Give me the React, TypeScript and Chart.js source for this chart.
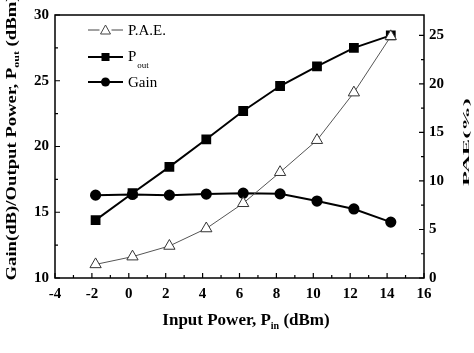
import React, { useEffect, useRef } from "react";
import { Chart, registerables } from "chart.js";

Chart.register(...registerables);

const inputPower = [-1.8, 0.2, 2.2, 4.2, 6.2, 8.2, 10.2, 12.2, 14.2];
const pout = [14.4, 16.45, 18.45, 20.55, 22.7, 24.6, 26.1, 27.5, 28.45];
const gain = [16.3, 16.35, 16.3, 16.38, 16.45, 16.4, 15.85, 15.25, 14.25];
const pae = [1.4, 2.2, 3.3, 5.1, 7.7, 10.9, 14.2, 19.1, 24.9];

const xTicks = [-4, -2, 0, 2, 4, 6, 8, 10, 12, 14, 16];
const leftTicks = [10, 15, 20, 25, 30];
const rightTicks = [0, 5, 10, 15, 20, 25];

const SERIF = "'Liberation Serif', 'Times New Roman', serif";

function drawStretched(ctx: CanvasRenderingContext2D, segs: { t: string; size: number; dy: number }[], cx: number, cy: number, length: number, rot: number) {
  ctx.save();
  let total = 0;
  for (const s of segs) {
    ctx.font = `bold ${s.size}px ${SERIF}`;
    total += ctx.measureText(s.t).width;
  }
  ctx.translate(cx, cy);
  ctx.rotate(rot);
  ctx.scale(length / total, 1);
  let x = -total / 2;
  ctx.fillStyle = "#000";
  ctx.textBaseline = "middle";
  ctx.textAlign = "left";
  for (const s of segs) {
    ctx.font = `bold ${s.size}px ${SERIF}`;
    ctx.fillText(s.t, x, s.dy);
    x += ctx.measureText(s.t).width;
  }
  ctx.restore();
}

const framePlugin = {
  id: "frame",
  afterDraw(chart: any) {
    const ctx: CanvasRenderingContext2D = chart.ctx;
    const { left, right, top, bottom } = chart.chartArea;
    const xs = chart.scales.x;
    const ys = chart.scales.y;
    const y1 = chart.scales.y1;
    ctx.save();
    ctx.strokeStyle = "#000";
    ctx.lineWidth = 1.5;
    ctx.strokeRect(left, top, right - left, bottom - top);
    ctx.lineWidth = 1.2;
    ctx.beginPath();
    for (let v = -4; v <= 16; v += 1) {
      const px = xs.getPixelForValue(v);
      const len = v % 2 === 0 ? 5 : 3;
      ctx.moveTo(px, bottom);
      ctx.lineTo(px, bottom - len);
    }
    for (let v = 10; v <= 30; v += 2.5) {
      const py = ys.getPixelForValue(v);
      const len = v % 5 === 0 ? 5 : 3;
      ctx.moveTo(left, py);
      ctx.lineTo(left + len, py);
    }
    for (let v = 0; v <= 27; v += 2.5) {
      const py = y1.getPixelForValue(v);
      const len = v % 5 === 0 ? 5 : 3;
      ctx.moveTo(right, py);
      ctx.lineTo(right - len, py);
    }
    ctx.stroke();

    drawStretched(
      ctx,
      [
        { t: "Gain(dB)/Output Power, P", size: 14, dy: 0 },
        { t: "out", size: 9, dy: 5 },
        { t: " (dBm)", size: 14, dy: 0 },
      ],
      12,
      138,
      285,
      -Math.PI / 2
    );
    drawStretched(ctx, [{ t: "PAE(%)", size: 8, dy: 0 }], 467, 142, 88, -Math.PI / 2);

    ctx.fillStyle = "#000";
    ctx.textBaseline = "alphabetic";
    ctx.textAlign = "left";
    const parts = [
      { t: "Input Power, P", size: 17, dy: 0 },
      { t: "in", size: 10, dy: 4 },
      { t: " (dBm)", size: 17, dy: 0 },
    ];
    let w = 0;
    for (const p of parts) {
      ctx.font = `bold ${p.size}px ${SERIF}`;
      w += ctx.measureText(p.t).width;
    }
    let bx = 246 - w / 2;
    for (const p of parts) {
      ctx.font = `bold ${p.size}px ${SERIF}`;
      ctx.fillText(p.t, bx, 325 + p.dy);
      bx += ctx.measureText(p.t).width;
    }

    const lx0 = 88, lx1 = 123, mx = 105.5, tx = 128;
    const rows = [30, 57, 82];
    ctx.textBaseline = "middle";
    ctx.strokeStyle = "#444";
    ctx.lineWidth = 1;
    ctx.beginPath();
    ctx.moveTo(lx0, rows[0]);
    ctx.lineTo(mx - 6, rows[0]);
    ctx.moveTo(mx + 6, rows[0]);
    ctx.lineTo(lx1, rows[0]);
    ctx.stroke();
    ctx.beginPath();
    ctx.moveTo(mx, rows[0] - 5);
    ctx.lineTo(mx + 5, rows[0] + 4);
    ctx.lineTo(mx - 5, rows[0] + 4);
    ctx.closePath();
    ctx.fillStyle = "#fff";
    ctx.fill();
    ctx.stroke();
    ctx.fillStyle = "#000";
    ctx.font = `15px ${SERIF}`;
    ctx.fillText("P.A.E.", tx, rows[0] + 1);
    ctx.strokeStyle = "#000";
    ctx.lineWidth = 2;
    ctx.beginPath();
    ctx.moveTo(lx0, rows[1]);
    ctx.lineTo(lx1, rows[1]);
    ctx.stroke();
    ctx.fillRect(mx - 4, rows[1] - 4, 8, 8);
    ctx.font = `15px ${SERIF}`;
    ctx.fillText("P", tx, rows[1]);
    const pw = ctx.measureText("P").width;
    ctx.font = `9px ${SERIF}`;
    ctx.fillText("out", tx + pw + 1, rows[1] + 9);
    ctx.beginPath();
    ctx.moveTo(lx0, rows[2]);
    ctx.lineTo(lx1, rows[2]);
    ctx.stroke();
    ctx.beginPath();
    ctx.arc(mx, rows[2], 4.5, 0, Math.PI * 2);
    ctx.fill();
    ctx.font = `15px ${SERIF}`;
    ctx.fillText("Gain", tx, rows[2] + 1);
    ctx.restore();
  },
};

export default function App() {
  const ref = useRef<HTMLCanvasElement | null>(null);
  useEffect(() => {
    if (!ref.current) return;
    const tickFont = { family: SERIF, size: 15, weight: "bold" as const };
    const chart = new Chart(ref.current, {
      type: "line",
      data: {
        datasets: [
          {
            label: "P.A.E.",
            data: inputPower.map((x, i) => ({ x, y: pae[i] })),
            yAxisID: "y1",
            borderColor: "#555",
            borderWidth: 1,
            pointStyle: "triangle",
            pointRadius: 6.5,
            pointBackgroundColor: "#fff",
            pointBorderColor: "#333",
            pointBorderWidth: 1,
            tension: 0,
          },
          {
            label: "Pout",
            data: inputPower.map((x, i) => ({ x, y: pout[i] })),
            yAxisID: "y",
            borderColor: "#000",
            borderWidth: 2,
            pointStyle: "rect",
            pointRadius: 5.5,
            pointBackgroundColor: "#000",
            pointBorderColor: "#000",
            tension: 0,
          },
          {
            label: "Gain",
            data: inputPower.map((x, i) => ({ x, y: gain[i] })),
            yAxisID: "y",
            borderColor: "#000",
            borderWidth: 2,
            pointStyle: "circle",
            pointRadius: 4.6,
            pointBackgroundColor: "#000",
            pointBorderColor: "#000",
            tension: 0,
          },
        ],
      },
      options: {
        responsive: false,
        animation: false,
        layout: { padding: { top: 7, left: 0, right: 0, bottom: 0 } },
        plugins: { legend: { display: false }, tooltip: { enabled: false } },
        scales: {
          x: {
            type: "linear",
            min: -4,
            max: 16,
            grid: { display: false, drawTicks: false },
            border: { display: false },
            afterBuildTicks: (s: any) => {
              s.ticks = xTicks.map((v) => ({ value: v }));
            },
            afterFit: (s: any) => {
              s.height = 75;
            },
            ticks: { font: tickFont, color: "#000", padding: 7, maxRotation: 0, autoSkip: false },
          },
          y: {
            position: "left",
            min: 10,
            max: 30,
            grid: { display: false, drawTicks: false },
            border: { display: false },
            afterBuildTicks: (s: any) => {
              s.ticks = leftTicks.map((v) => ({ value: v }));
            },
            afterFit: (s: any) => {
              s.width = 55;
            },
            ticks: { font: tickFont, color: "#000", padding: 6 },
          },
          y1: {
            position: "right",
            min: 0,
            max: 27.1,
            grid: { display: false, drawTicks: false },
            border: { display: false },
            afterBuildTicks: (s: any) => {
              s.ticks = rightTicks.map((v) => ({ value: v }));
            },
            afterFit: (s: any) => {
              s.width = 50;
            },
            ticks: { font: tickFont, color: "#000", padding: 5 },
          },
        },
      },
      plugins: [framePlugin],
    });
    return () => chart.destroy();
  }, []);
  return (
    <div style={{ position: "fixed", left: 0, top: 0, width: 474, height: 353, background: "#fff" }}>
      <canvas ref={ref} width={474} height={353} />
    </div>
  );
}
